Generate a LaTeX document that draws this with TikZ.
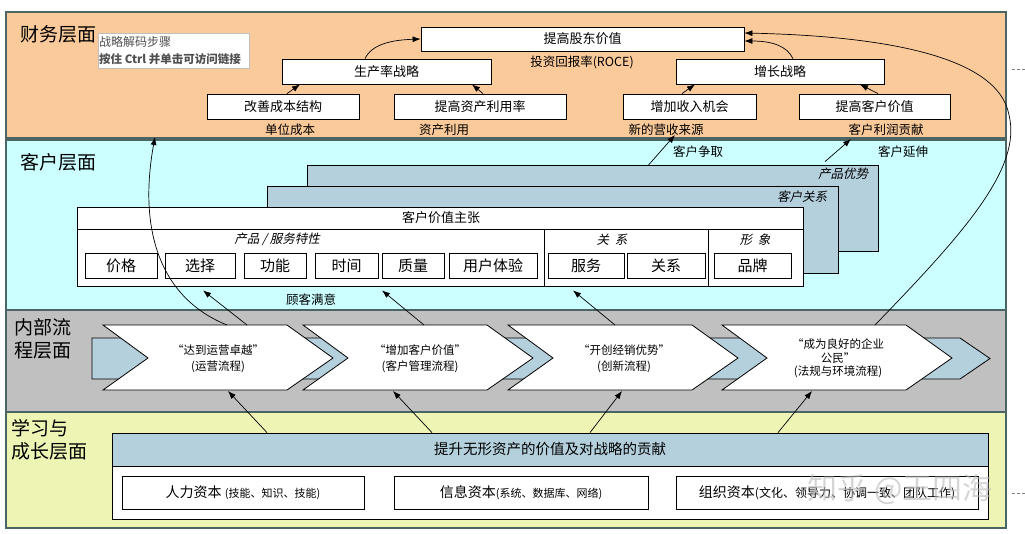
\documentclass[tikz,border=0pt]{standalone}
\usepackage{fontspec}
\setmainfont{Noto Sans CJK SC}
\newfontfamily\cjkit{Noto Sans CJK SC}[FakeSlant=0.22]
\usetikzlibrary{arrows.meta}
\definecolor{finc}{RGB}{250,202,155}
\definecolor{cusc}{RGB}{204,255,255}
\definecolor{intc}{RGB}{192,192,192}
\definecolor{lrnc}{RGB}{237,244,180}
\definecolor{bluec}{RGB}{180,208,220}
\definecolor{framec}{RGB}{75,100,100}
\definecolor{tipgray}{RGB}{80,80,80}
\tikzset{
  layer/.style={draw=framec, line width=1.2pt},
  box/.style={draw=black, line width=0.8pt, fill=white, inner sep=0pt, font=\fontsize{13}{15}\selectfont},
  sbox/.style={draw=black, line width=0.8pt, fill=white, inner sep=0pt, minimum height=25pt, font=\fontsize{15}{17}\selectfont},
  lbl/.style={inner sep=0pt, font=\fontsize{12.5}{14}\selectfont},
  itl/.style={inner sep=0pt, font=\cjkit\fontsize{12.5}{14}\selectfont},
  title/.style={inner sep=0pt, anchor=west, align=left, font=\fontsize{19}{23}\selectfont},
  chtext/.style={inner sep=0pt, align=center, font=\fontsize{11.5}{16}\selectfont},
  arr/.style={-{Latex[length=8pt,width=6pt]}, line width=0.7pt},
  chev/.style={draw=black, line width=0.8pt, fill=white},
  edgedash/.style={draw=gray, line width=0.7pt, dash pattern=on 3pt off 2pt}
}
\begin{document}
\begin{tikzpicture}[x=1pt,y=-1pt]
\useasboundingbox (0,0) rectangle (1025,533);
\fill[white] (0,0) rectangle (1025,533);

% layers
\draw[layer, fill=finc] (6,12) rectangle (1006,138);
\draw[layer, fill=cusc] (6,140) rectangle (1006,310);
\draw[layer, fill=intc] (6,310) rectangle (1006,412);
\draw[layer, fill=lrnc] (6,412) rectangle (1006,528);

\node[title] (tfin) at (20,34) {财务层面};
\node[title] (tcus) at (20,162) {客户层面};
\node[title] (tint) at (14,338.5) {内部流\\程层面};
\node[title] (tlrn) at (11,440) {学习与\\成长层面};

% right edge dashes
\draw[edgedash] (1012,69) -- (1025,69);
\draw[edgedash] (1012,493) -- (1025,493);

% ---------- financial layer ----------
\node[box, minimum width=323pt, minimum height=24pt] (sv) at (582.5,39) {提高股东价值};
\node[lbl] (roce) at (582,62) {投资回报率(ROCE)};
\node[box, minimum width=209pt, minimum height=25pt] (prod) at (386.5,71.5) {生产率战略};
\node[box, minimum width=208pt, minimum height=25pt] (grow) at (780,71.5) {增长战略};
\node[box, minimum width=152pt, minimum height=25pt] (cost) at (283,106.5) {改善成本结构};
\node[box, minimum width=172pt, minimum height=25pt] (asset) at (480,106.5) {提高资产利用率};
\node[box, minimum width=133pt, minimum height=25pt] (rev) at (689.5,106.5) {增加收入机会};
\node[box, minimum width=151pt, minimum height=25pt] (cval) at (874.5,106.5) {提高客户价值};
\node[lbl] (costl) at (290,130) {单位成本};
\node[lbl] (assetl) at (444,130) {资产利用};
\node[lbl] (revl) at (666,130) {新的营收来源};
\node[lbl] (cvall) at (886,130) {客户利润贡献};

\draw[arr] ([xshift=4pt]cost.north) -- ([xshift=-86.5pt]prod.south);
\draw[arr] ([xshift=3pt]asset.north) -- ([xshift=85.5pt]prod.south);
\draw[arr] ([xshift=-7.5pt]rev.north) -- ([xshift=-85pt]grow.south);
\draw[arr] ([xshift=3.5pt]cval.north) -- ([xshift=80pt]grow.south);
\draw[arr] ([xshift=-21.5pt]prod.north) .. controls (372,44) and (392,40) .. (sv.west);
\draw[arr] ([xshift=13pt]grow.north) .. controls (787,46) and (772,41) .. ([yshift=-2pt]sv.east);

% tooltip
\node[draw=gray!50, fill=white, line width=0.5pt, minimum width=151pt, minimum height=35pt, inner sep=0pt] (tip) at (173.5,50.5) {};
\node[inner sep=0pt, anchor=west, text=tipgray, font=\fontsize{12}{14}\selectfont] (tip1) at (99,42) {战略解码步骤};
\node[inner sep=0pt, anchor=west, text=tipgray, font=\bfseries\fontsize{11.5}{14}\selectfont] (tip2) at (99,59.5) {按住 Ctrl 并单击可访问链接};

% ---------- customer layer ----------
\node[draw=black, line width=0.8pt, fill=bluec, minimum width=571pt, minimum height=86pt, inner sep=0pt] (back1) at (592.5,208) {};
\node[itl] (back1l) at (843,174) {产品优势};
\node[draw=black, line width=0.8pt, fill=bluec, minimum width=571pt, minimum height=87pt, inner sep=0pt] (back2) at (552.5,229.5) {};
\node[itl] (back2l) at (802,197) {客户关系};
\node[draw=black, line width=0.8pt, fill=white, minimum width=726pt, minimum height=79pt, inner sep=0pt] (front) at (440,246.5) {};
\draw[line width=0.8pt] (77,229) -- (803,229);
\draw[line width=0.8pt] (544,229) -- (544,286);
\draw[line width=0.8pt] (708,229) -- (708,286);
\node[lbl, font=\fontsize{13}{15}\selectfont] (cvp) at (441,218) {客户价值主张};
\node[itl] (psf) at (277,239.5) {产品 / 服务特性};
\node[itl] (rel) at (612,239.5) {关\ \ 系};
\node[itl] (img) at (755,239.5) {形\ \ 象};

\node[sbox, minimum width=72pt] (price) at (121,265.5) {价格};
\node[sbox, minimum width=70pt] (sel) at (200,265.5) {选择};
\node[sbox, minimum width=62pt] (func) at (275,265.5) {功能};
\node[sbox, minimum width=63pt] (time) at (346.5,265.5) {时间};
\node[sbox, minimum width=62pt] (qual) at (413,265.5) {质量};
\node[sbox, minimum width=88pt] (ux) at (493,265.5) {用户体验};
\node[sbox, minimum width=76pt] (serv) at (586,265.5) {服务};
\node[sbox, minimum width=78pt] (rela) at (666,265.5) {关系};
\node[sbox, minimum width=77pt] (brand) at (752.5,265.5) {品牌};

\node[lbl] (sat) at (311,300) {顾客满意};
\node[lbl] (acql) at (698,151.5) {客户争取};
\node[lbl] (extl) at (903,151.5) {客户延伸};

\draw[arr] ([xshift=55.5pt,yshift=-1pt]back1.north) -- ([xshift=9pt,yshift=1pt]revl.south);
\draw[arr] ([xshift=232.5pt,yshift=3pt]back1.north) -- ([xshift=-35pt,yshift=-3pt]cvall.south);

% ---------- internal layer ----------
\draw[line width=0.8pt, fill=bluec] (92,338) -- (960,338) -- (990,358.5) -- (960,379) -- (92,379) -- cycle;
\foreach \x in {103,303,508,722}
  \draw[chev] (\x,325) -- ++(184,0) -- ++(46,33) -- ++(-46,32) -- ++(-184,0) -- ++(45,-32) -- cycle;

\node[chtext] (ch1) at (218,358.5) {“达到运营卓越”\\(运营流程)};
\node[chtext] (ch2) at (420,358.5) {“增加客户价值”\\(客户管理流程)};
\node[chtext] (ch3) at (624,358.5) {“开创经销优势”\\(创新流程)};
\node[chtext, font=\fontsize{11.5}{13.5}\selectfont] (ch4) at (838,358.5) {“成为良好的企业\\公民”\\(法规与环境流程)};

\coordinate (c1tl) at (227,325);
\coordinate (c1t) at (247,325);
\coordinate (c2t) at (424,325);
\coordinate (c3t) at (615,325);
\coordinate (c4t) at (875,325);
\coordinate (c1b) at (228,391);
\coordinate (c2b) at (393,391);
\coordinate (c3b) at (622,391);
\coordinate (c4b) at (812,391);
\coordinate (finbot) at (155,137);

\draw[arr] (c1t) -- ([xshift=3pt,yshift=-12pt]sel.south);
\draw[arr] (c2t) -- ([xshift=-31pt,yshift=-12pt]qual.south);
\draw[arr] (c3t) -- ([xshift=-13pt,yshift=-12pt]serv.south);
\draw[arr] (c1tl) .. controls (160,298) and (138,230) .. (finbot);
\draw[arr] (c4t) .. controls (965,232) and (1022,168) .. (1009,115) .. controls (998,55) and (880,36) .. ([yshift=6pt]sv.east);

% ---------- learning layer ----------
\node[draw=black, line width=0.8pt, fill=white, minimum width=876pt, minimum height=86pt, inner sep=0pt] (lrn) at (550,476) {};
\draw[line width=0.8pt, fill=bluec] (112,433) rectangle (988,466);
\node[inner sep=0pt, font=\fontsize{14.5}{16}\selectfont] (lrnh) at (550,449.5) {提升无形资产的价值及对战略的贡献};
\node[box, minimum width=242pt, minimum height=33pt, font=\fontsize{14}{16}\selectfont] (hum) at (243,492.5) {人力资本 {\fontsize{11}{13}\selectfont(技能、知识、技能)}};
\node[box, minimum width=254pt, minimum height=33pt, font=\fontsize{14}{16}\selectfont] (inf) at (521,492.5) {信息资本{\fontsize{11}{13}\selectfont(系统、数据库、网络)}};
\node[box, minimum width=302pt, minimum height=33pt, font=\fontsize{14}{16}\selectfont] (org) at (827,492.5) {组织资本{\fontsize{12}{14}\selectfont(文化、领导力、协调一致、团队工作)}};

\draw[arr] ([xshift=-283pt]lrn.north) -- (c1b);
\draw[arr] ([xshift=-118pt]lrn.north) -- (c2b);
\draw[arr] ([xshift=40pt]lrn.north) -- (c3b);
\draw[arr] ([xshift=228pt]lrn.north) -- (c4b);

% watermark
\node[inner sep=0pt, text=gray!55, opacity=0.6, font=\fontsize{30}{32}\selectfont] (wm) at (900,489) {知乎 @王四海};
\end{tikzpicture}
\end{document}
